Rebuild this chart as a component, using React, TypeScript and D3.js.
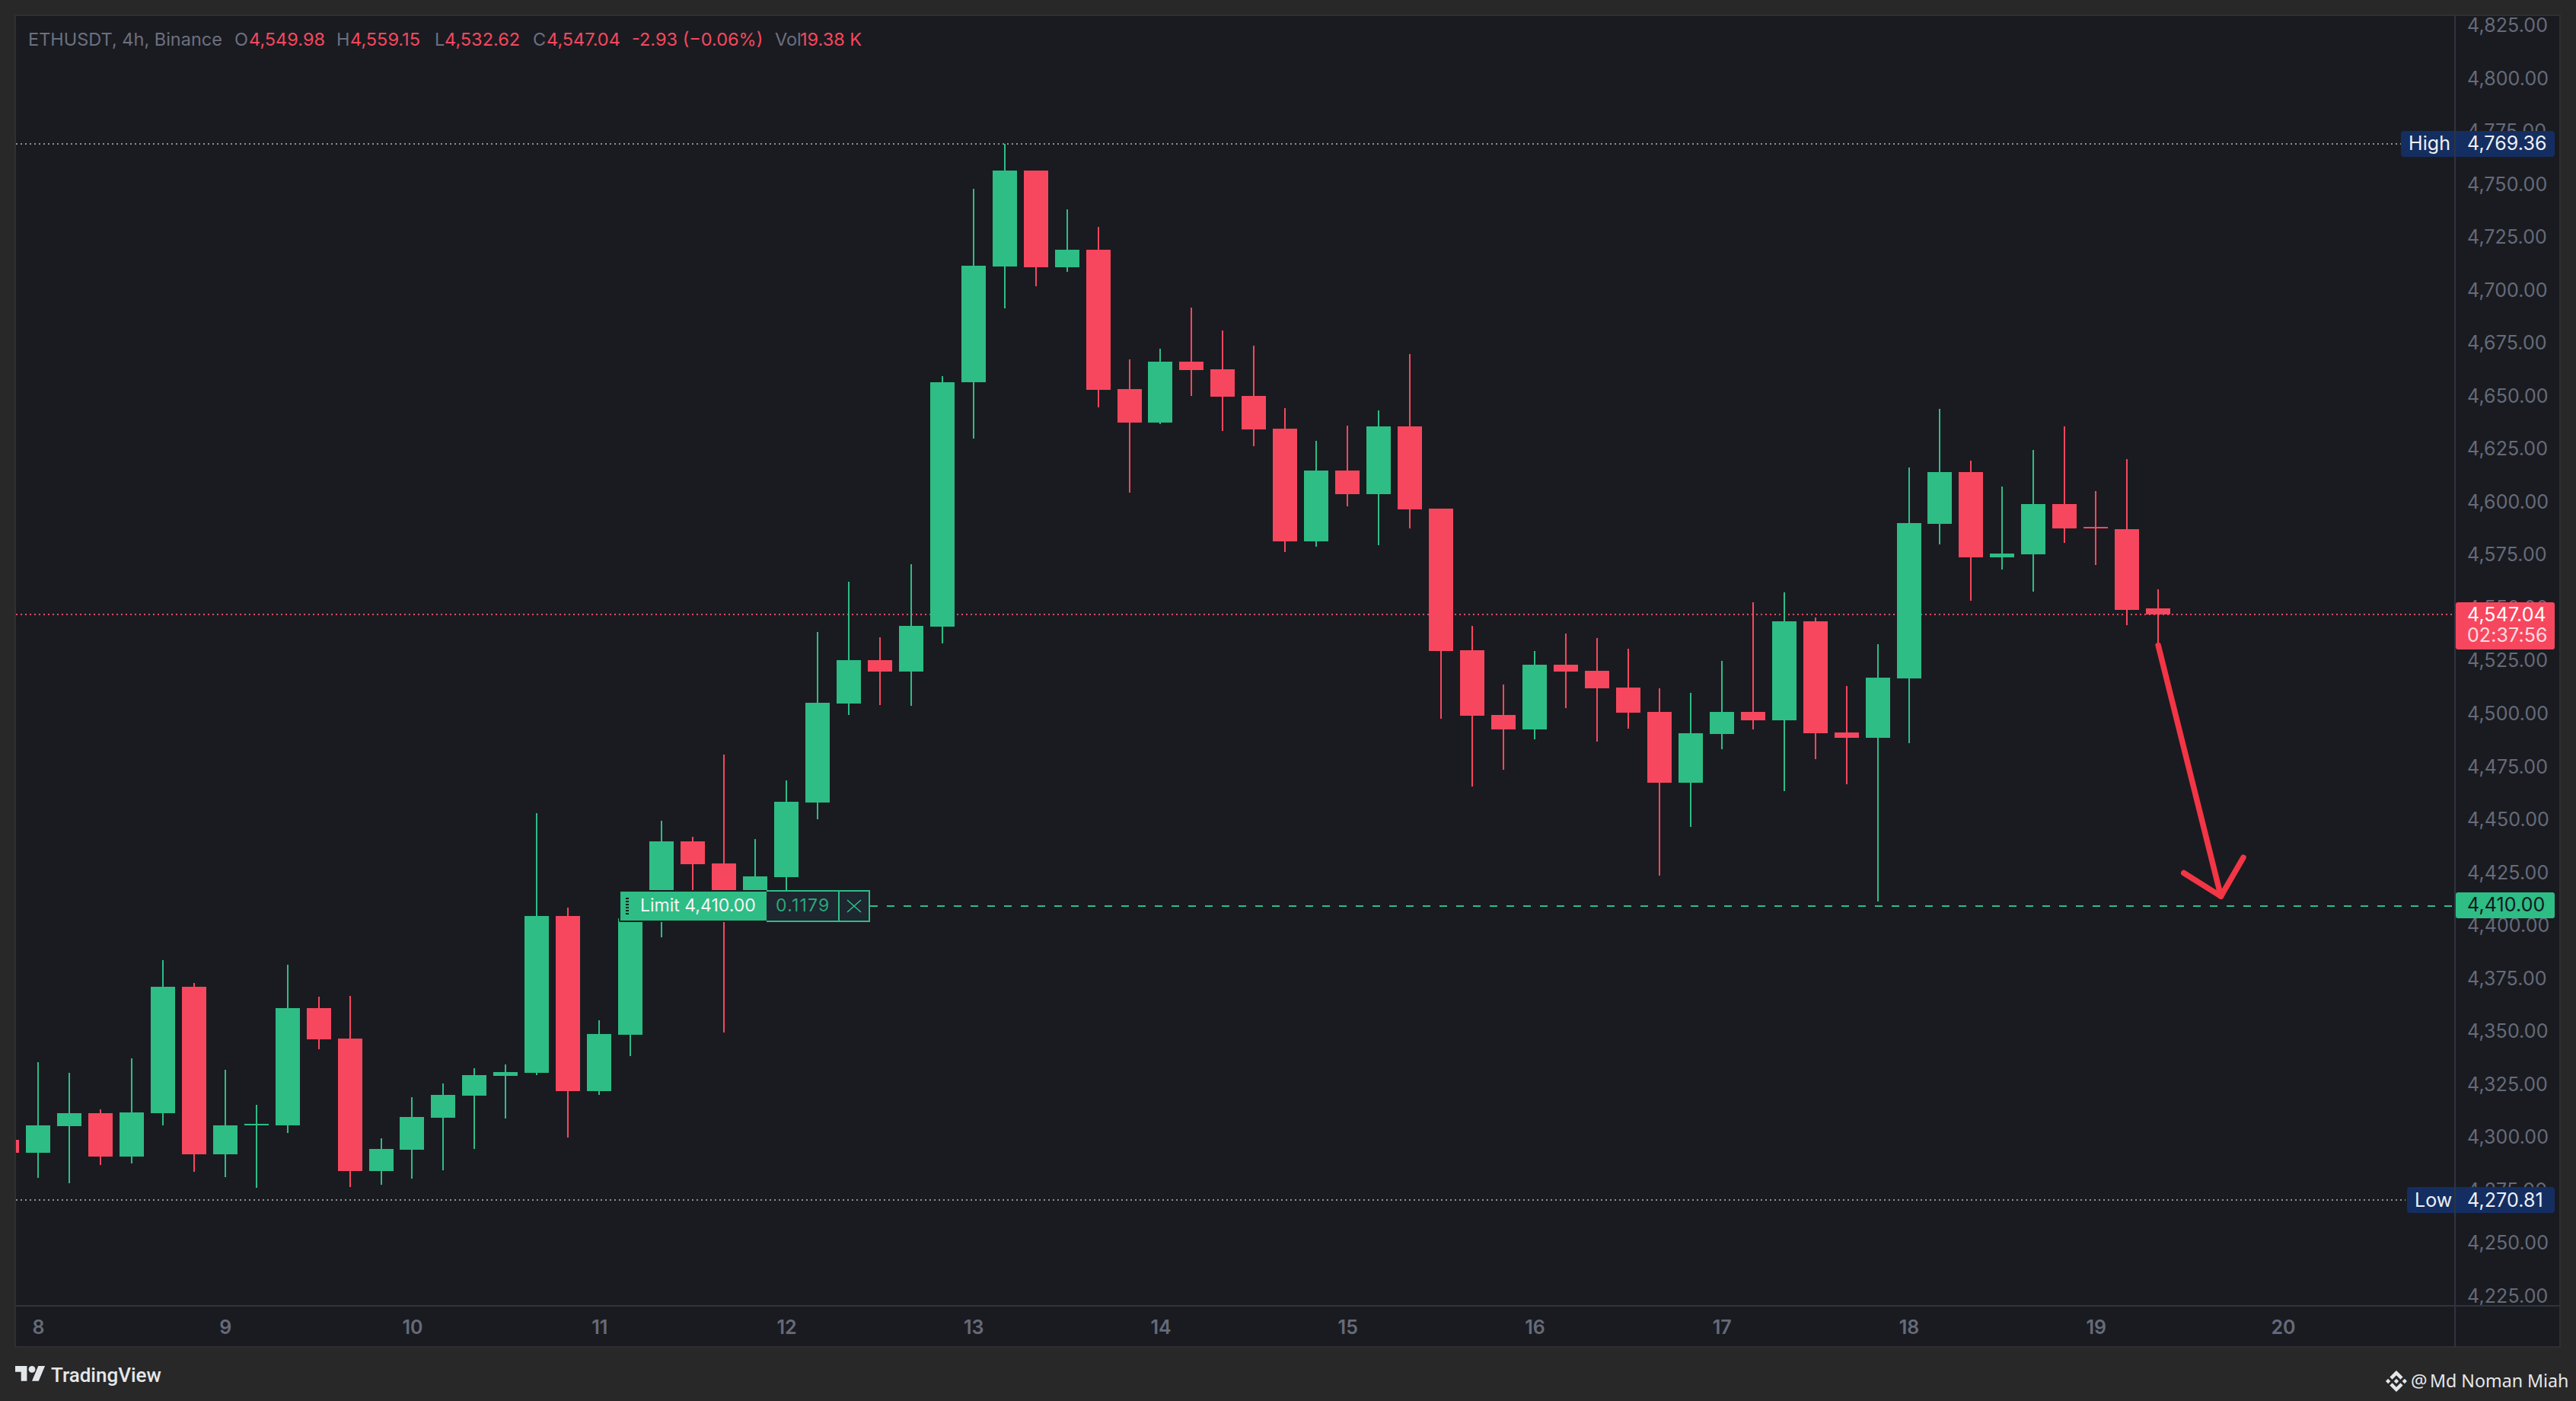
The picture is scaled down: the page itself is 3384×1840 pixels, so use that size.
import React, { useEffect, useRef } from "react";
import * as d3 from "d3";

// 4h candles, first one is clipped by the left edge of the pane
const opens = [
  4299.1, 4293.0, 4305.6, 4311.7, 4291.2, 4311.7, 4371.4, 4292.3, 4305.9, 4305.9,
  4361.3, 4346.9, 4284.4, 4294.4, 4309.5, 4320.0, 4329.3, 4330.8, 4404.8, 4322.1,
  4348.7, 4403.7, 4440.0, 4429.6, 4412.4, 4423.1, 4458.4, 4505.1, 4525.6, 4520.2,
  4541.4, 4656.8, 4711.5, 4756.8, 4711.1, 4719.4, 4653.6, 4637.8, 4666.5, 4662.9,
  4650.4, 4634.9, 4581.7, 4615.1, 4604.0, 4636.0, 4597.2, 4530.3, 4499.7, 4492.9,
  4523.5, 4520.6, 4512.7, 4501.2, 4467.7, 4490.7, 4501.2, 4497.2, 4543.9, 4491.5,
  4488.9, 4517.0, 4590.0, 4614.4, 4574.1, 4575.6, 4599.3, 4588.5, 4587.4, 4549.98,
];
const highs = [
  4302.0, 4335.8, 4330.8, 4313.5, 4337.6, 4384.0, 4373.2, 4332.2, 4315.7, 4381.8,
  4366.7, 4367.1, 4299.8, 4319.2, 4325.7, 4332.9, 4334.7, 4453.3, 4408.8, 4355.6,
  4405.0, 4449.8, 4442.2, 4481.0, 4441.1, 4468.8, 4538.9, 4562.6, 4536.4, 4570.9,
  4659.7, 4748.2, 4769.36, 4756.8, 4738.4, 4730.2, 4667.6, 4672.7, 4692.1, 4681.3,
  4674.1, 4644.6, 4629.2, 4636.3, 4643.5, 4670.1, 4597.2, 4541.8, 4514.1, 4529.9,
  4538.2, 4536.0, 4531.0, 4512.3, 4510.2, 4525.3, 4552.9, 4557.6, 4545.7, 4513.4,
  4533.2, 4616.6, 4644.3, 4619.8, 4607.6, 4624.8, 4636.0, 4605.4, 4620.5, 4559.15,
];
const lows = [
  4290.0, 4281.1, 4278.6, 4287.2, 4288.0, 4305.9, 4284.0, 4281.5, 4276.5, 4302.3,
  4341.9, 4276.8, 4277.9, 4280.8, 4284.7, 4294.8, 4309.2, 4329.7, 4300.2, 4320.3,
  4338.7, 4394.7, 4414.9, 4349.8, 4410.2, 4414.9, 4450.5, 4499.7, 4504.4, 4504.0,
  4533.5, 4630.2, 4691.7, 4702.1, 4709.0, 4645.0, 4604.7, 4637.1, 4650.4, 4633.8,
  4626.6, 4576.7, 4579.2, 4598.2, 4579.9, 4587.8, 4497.9, 4465.9, 4473.8, 4488.2,
  4503.0, 4487.1, 4493.3, 4423.9, 4446.9, 4483.5, 4492.9, 4463.8, 4478.9, 4467.0,
  4411.6, 4486.4, 4580.3, 4553.7, 4568.4, 4558.0, 4581.0, 4570.6, 4542.1, 4532.62,
];
const closes = [
  4293.0, 4305.9, 4311.7, 4291.2, 4312.0, 4371.4, 4292.3, 4305.9, 4306.7, 4361.3,
  4346.6, 4284.4, 4294.8, 4309.9, 4320.3, 4329.7, 4331.1, 4404.8, 4322.1, 4349.1,
  4403.7, 4440.0, 4429.3, 4412.4, 4423.5, 4458.7, 4505.5, 4525.6, 4520.2, 4541.8,
  4656.8, 4711.8, 4756.8, 4711.1, 4719.4, 4653.2, 4637.8, 4666.5, 4662.6, 4650.0,
  4634.5, 4581.7, 4615.1, 4604.0, 4636.0, 4596.8, 4529.9, 4499.4, 4492.9, 4523.5,
  4520.2, 4512.3, 4500.8, 4467.7, 4491.1, 4501.2, 4497.2, 4543.9, 4491.1, 4488.9,
  4517.3, 4590.3, 4614.4, 4574.1, 4575.9, 4599.3, 4587.8, 4588.0, 4549.3, 4547.04,
];

const dayLabels = [8, 9, 10, 11, 12, 13, 14, 15, 16, 17, 18, 19, 20];
const barsPerDay = 6;
const firstDayBar = 1;
const priceTicks = d3.range(4225, 4826, 25);

const highPrice = 4769.36;
const lowPrice = 4270.81;
const lastPrice = 4547.04;
const orderPrice = 4409.6;

// hand drawn arrow, [bar index, price]
const arrowShaft: [number, number][] = [[69, 4532.6], [71.01, 4414.1]];
const arrowHead: [number, number][] = [[69.82, 4425.1], [71.01, 4414.1], [71.73, 4432.4]];

const legendParts = [
  { x: 37, text: "ETHUSDT, 4h, Binance", up: false },
  { x: 308, text: "O", up: false },
  { x: 327, text: "4,549.98", up: true },
  { x: 442, text: "H", up: false },
  { x: 460, text: "4,559.15", up: true },
  { x: 571, text: "L", up: false },
  { x: 584, text: "4,532.62", up: true },
  { x: 700, text: "C", up: false },
  { x: 718, text: "4,547.04", up: true },
  { x: 830, text: "-2.93 (−0.06%)", up: true },
  { x: 1018, text: "Vol", up: false },
  { x: 1051, text: "19.38 K", up: true },
];

const GREEN = "#2ebd85";
const RED = "#f7475f";
const FONT = "Inter, sans-serif";

const App: React.FC = () => {
  const ref = useRef<SVGSVGElement>(null);

  useEffect(() => {
    const width = 3384,
      height = 1840;
    const pane = { left: 21, top: 20, right: 3225, bottom: 1715 };

    const svg = d3.select(ref.current!);
    svg.selectAll("*").remove();

    const x = d3.scaleLinear().domain([0, 69]).range([9, 2835.2]);
    const y = d3.scaleLinear().domain([highPrice, lowPrice]).range([189, 1575.7]);

    svg.append("rect").attr("width", width).attr("height", height).attr("fill", "#282828");
    svg
      .append("rect")
      .attr("x", 20)
      .attr("y", 20)
      .attr("width", 3343)
      .attr("height", 1749)
      .attr("fill", "#1a1b20")
      .attr("stroke", "#2f2f31")
      .attr("stroke-width", 2);

    svg
      .append("defs")
      .append("clipPath")
      .attr("id", "pane")
      .append("rect")
      .attr("x", pane.left)
      .attr("y", pane.top)
      .attr("width", pane.right - pane.left)
      .attr("height", pane.bottom - pane.top);

    // price axis
    const priceAxis = svg
      .append("g")
      .attr("transform", "translate(3241,0)")
      .call(d3.axisRight(y).tickValues(priceTicks).tickSize(0).tickPadding(0).tickFormat(d3.format(",.2f")));
    priceAxis.select(".domain").remove();
    priceAxis
      .selectAll("text")
      .attr("font-family", FONT)
      .attr("font-size", 25)
      .attr("letter-spacing", 0.1)
      .attr("fill", "#656b7a")
      .attr("dy", "0.29em");

    // time axis
    const timeAxis = svg
      .append("g")
      .attr("transform", `translate(0,${pane.bottom})`)
      .call(
        d3
          .axisBottom(x)
          .tickValues(dayLabels.map((_d, i) => firstDayBar + i * barsPerDay))
          .tickSize(0)
          .tickPadding(0)
          .tickFormat((_d, i) => String(dayLabels[i]))
      );
    timeAxis.select(".domain").remove();
    timeAxis
      .selectAll("text")
      .attr("font-family", FONT)
      .attr("font-weight", 600)
      .attr("font-size", 25)
      .attr("fill", "#656b7a")
      .attr("dy", 0)
      .attr("y", 37);

    const lines = svg.append("g").attr("clip-path", "url(#pane)");

    // high / low / last price lines
    const levelLine = (price: number, end: number, color: string) =>
      lines
        .append("line")
        .attr("x1", pane.left)
        .attr("x2", end)
        .attr("y1", Math.round(y(price)))
        .attr("y2", Math.round(y(price)))
        .attr("stroke", color)
        .attr("stroke-width", 2)
        .attr("stroke-dasharray", "2 4");
    levelLine(highPrice, 3154, "#8f9094");
    levelLine(lowPrice, 3160, "#8f9094");
    levelLine(lastPrice, 3221, RED);

    // candles
    const candles = d3.range(opens.length).map((i) => ({
      i,
      o: opens[i],
      h: highs[i],
      l: lows[i],
      c: closes[i],
    }));
    const g = svg.append("g").attr("clip-path", "url(#pane)").attr("shape-rendering", "crispEdges");
    const candle = g.selectAll("g").data(candles).enter().append("g");
    candle
      .append("rect")
      .attr("x", (d) => Math.round(x(d.i)) - 1)
      .attr("width", 2)
      .attr("y", (d) => Math.round(y(d.h)))
      .attr("height", (d) => Math.round(y(d.l)) - Math.round(y(d.h)))
      .attr("fill", (d) => (d.c >= d.o ? GREEN : RED));
    candle
      .append("rect")
      .attr("x", (d) => Math.round(x(d.i)) - 16)
      .attr("width", 32)
      .attr("y", (d) => Math.round(y(Math.max(d.o, d.c))))
      .attr("height", (d) => Math.max(2, Math.round(Math.abs(y(d.o) - y(d.c)))))
      .attr("fill", (d) => (d.c >= d.o ? GREEN : RED));

    // order line
    const orderY = Math.round(y(orderPrice));
    svg
      .append("line")
      .attr("x1", 1143)
      .attr("x2", 3221)
      .attr("y1", orderY)
      .attr("y2", orderY)
      .attr("stroke", GREEN)
      .attr("stroke-width", 2)
      .attr("stroke-dasharray", "10 12");

    // arrow
    const arrowLine = d3
      .line<[number, number]>()
      .x((d) => x(d[0]))
      .y((d) => y(d[1]));
    [arrowShaft, arrowHead].forEach((pts) => {
      svg
        .append("path")
        .attr("d", arrowLine(pts))
        .attr("fill", "none")
        .attr("stroke", "#f23645")
        .attr("stroke-width", 7.5)
        .attr("stroke-linecap", "round")
        .attr("stroke-linejoin", "round");
    });

    // order ticket
    const ticket = svg.append("g").attr("font-family", FONT).attr("font-size", 23);
    ticket
      .append("rect")
      .attr("x", 813)
      .attr("y", 1169)
      .attr("width", 196)
      .attr("height", 42)
      .attr("rx", 2)
      .attr("fill", "#1a1b20");
    ticket
      .append("rect")
      .attr("x", 815)
      .attr("y", 1171)
      .attr("width", 192)
      .attr("height", 38)
      .attr("fill", GREEN);
    d3.range(6).forEach((k) => {
      ticket
        .append("rect")
        .attr("x", 822)
        .attr("y", 1179 + k * 4)
        .attr("width", 4)
        .attr("height", 2)
        .attr("fill", "#1a1b20");
    });
    ticket
      .append("text")
      .attr("x", 841)
      .attr("y", 1197)
      .attr("fill", "#f4f5f6")
      .text("Limit 4,410.00");
    ticket
      .append("rect")
      .attr("x", 1008)
      .attr("y", 1170)
      .attr("width", 134)
      .attr("height", 40)
      .attr("fill", "#1e2630")
      .attr("stroke", GREEN)
      .attr("stroke-width", 2);
    ticket
      .append("line")
      .attr("x1", 1102)
      .attr("x2", 1102)
      .attr("y1", 1170)
      .attr("y2", 1210)
      .attr("stroke", GREEN)
      .attr("stroke-width", 2);
    ticket
      .append("rect")
      .attr("x", 1007)
      .attr("y", 1171)
      .attr("width", 2)
      .attr("height", 38)
      .attr("fill", "#1e2630");
    ticket
      .append("text")
      .attr("x", 1019)
      .attr("y", 1197)
      .attr("fill", GREEN)
      .attr("opacity", 0.85)
      .attr("letter-spacing", 1.2)
      .text("0.1179");
    ticket
      .append("path")
      .attr("d", "M1113 1182L1131 1198M1131 1182L1113 1198")
      .attr("stroke", GREEN)
      .attr("stroke-width", 1.6)
      .attr("fill", "none");

    // axis borders
    svg
      .append("line")
      .attr("x1", pane.left)
      .attr("x2", 3363)
      .attr("y1", pane.bottom)
      .attr("y2", pane.bottom)
      .attr("stroke", "#2e3440")
      .attr("stroke-width", 2);

    // price badges
    const badge = (
      bx: number,
      by: number,
      bw: number,
      bh: number,
      fill: string,
      corner: number
    ) =>
      svg
        .append("rect")
        .attr("x", bx)
        .attr("y", by)
        .attr("width", bw)
        .attr("height", bh)
        .attr("rx", corner)
        .attr("fill", fill);
    const badgeText = (tx: number, ty: number, text: string, color: string, opacity = 1) =>
      svg
        .append("text")
        .attr("x", tx)
        .attr("y", ty)
        .attr("font-family", FONT)
        .attr("font-size", 25)
        .attr("letter-spacing", 0.1)
        .attr("fill", color)
        .attr("opacity", opacity)
        .text(text);

    badge(3154, 172, 202, 34, "#142e61", 4);
    badgeText(3164, 197, "High", "#eef0f3");
    badgeText(3241, 197, d3.format(",.2f")(highPrice), "#eef0f3");
    badge(3162, 1559, 194, 34, "#142e61", 4);
    badgeText(3172, 1585, "Low", "#eef0f3");
    badgeText(3241, 1585, d3.format(",.2f")(lowPrice), "#eef0f3");

    svg
      .append("line")
      .attr("x1", 3225)
      .attr("x2", 3225)
      .attr("y1", 20)
      .attr("y2", 1769)
      .attr("stroke", "#2e3440")
      .attr("stroke-width", 2);

    badge(3226, 791, 130, 62, RED, 3);
    badgeText(3241, 816, d3.format(",.2f")(lastPrice), "#ffffff");
    badgeText(3241, 843, "02:37:56", "#ffffff", 0.8);
    badge(3226, 1172, 130, 34, GREEN, 3);
    badgeText(3241, 1197, "4,410.00", "#131722");

    // legend
    svg
      .append("g")
      .selectAll("text")
      .data(legendParts)
      .enter()
      .append("text")
      .attr("x", (d) => d.x)
      .attr("y", 60)
      .attr("font-family", FONT)
      .attr("font-size", 23.5)
      .attr("fill", (d) => (d.up ? RED : "#6b7080"))
      .text((d) => d.text);

    // footer
    const logo = svg
      .append("g")
      .attr("transform", "translate(20,1789.6) scale(1.1)")
      .attr("fill", "#e4e7ea");
    logo.append("path").attr("d", "M14 22H7V11H0V4h14v18zM28 22h-8l7.5-18h8L28 22z");
    logo.append("circle").attr("cx", 20).attr("cy", 8).attr("r", 4);
    svg
      .append("text")
      .attr("x", 67)
      .attr("y", 1815)
      .attr("font-family", "Roboto, sans-serif")
      .attr("font-size", 26)
      .attr("font-weight", 500)
      .attr("fill", "#e4e7ea")
      .text("TradingView");

    svg
      .append("path")
      .attr("transform", "translate(3134,1800) scale(0.221)")
      .attr("fill", "#e4e7ea")
      .attr(
        "d",
        "M38.73 53.2l24.59-24.58 24.6 24.6 14.3-14.31L63.32 0l-38.9 38.9zM0 63.31l14.3-14.31 14.31 14.31-14.31 14.3zM38.73 73.41l24.59 24.59 24.6-24.6 14.31 14.29-38.9 38.91-38.91-38.88-.02-.02zM98 63.31l14.3-14.31 14.31 14.3-14.31 14.32zM77.83 63.3L63.32 48.78 52.59 59.51l-1.24 1.23-2.54 2.54 14.51 14.5 14.51-14.51z"
      );
    const credit = svg
      .append("g")
      .attr("font-family", "'Noto Sans', sans-serif")
      .attr("fill", "#e4e7ea");
    credit.append("text").attr("x", 3167).attr("y", 1822).attr("font-size", 24).text("@");
    credit.append("text").attr("x", 3192).attr("y", 1822).attr("font-size", 23.2).text("Md Noman Miah");
  }, []);

  return (
    <svg
      ref={ref}
      width={3384}
      height={1840}
      style={{ position: "absolute", left: 0, top: 0, display: "block" }}
    />
  );
};

export default App;
